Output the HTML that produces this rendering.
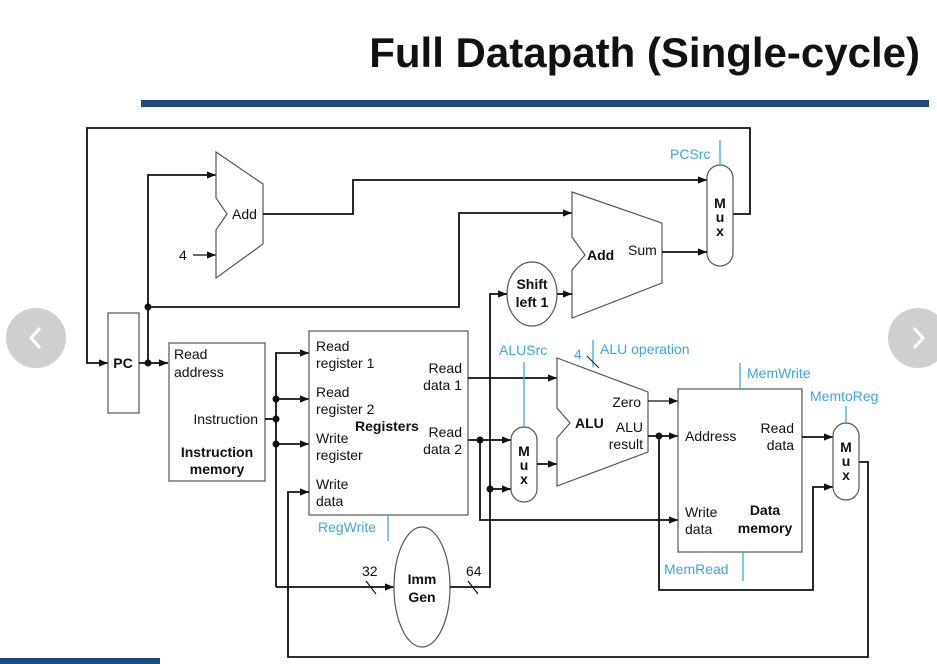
<!DOCTYPE html>
<html><head><meta charset="utf-8"><style>
html,body{margin:0;padding:0;background:#fff;}
svg{display:block;font-family:"Liberation Sans",Arial,sans-serif;}
.t{font-size:14px;fill:#111;}
.b{font-size:14px;font-weight:bold;fill:#111;}
.c{font-size:14px;fill:#3aa6e4;}
.w{stroke:#111;stroke-width:1.8;fill:none;}
.bx{stroke:#555;stroke-width:1.2;fill:#fff;}
.cl{stroke:#3aa6e4;stroke-width:1.3;}
</style></head><body>
<svg width="937" height="664" viewBox="0 0 937 664" xmlns="http://www.w3.org/2000/svg">
<defs><marker id="a" viewBox="0 0 10 10" refX="10" refY="5" markerWidth="9" markerHeight="9" markerUnits="userSpaceOnUse" orient="auto"><path d="M0,1 L10,5 L0,9 z" fill="#111"/></marker></defs>
<text x="920" y="67" text-anchor="end" style="font-size:42px;font-weight:bold" fill="#111">Full Datapath (Single-cycle)</text>
<rect x="141" y="100" width="788" height="7" fill="#1d4a7f"/>
<rect x="0" y="658" width="160" height="6" fill="#1d4a7f"/>

<polyline class="w" points="733,214 750,214 750,128 87,128 87,363 108,363" marker-end="url(#a)"/>
<rect class="bx" x="108" y="313" width="31" height="100"/>
<text class="b" x="123" y="368" text-anchor="middle">PC</text>
<line class="w" x1="139" y1="363" x2="168" y2="363" marker-end="url(#a)"/>
<polyline class="w" points="148,363 148,175 216,175" marker-end="url(#a)"/>
<polyline class="w" points="148,307 459,307 459,213 572,213" marker-end="url(#a)"/>
<circle cx="148" cy="363" r="3.5" fill="#111"/><circle cx="148" cy="307" r="3.5" fill="#111"/>

<polygon class="bx" points="216,152 263,184 263,244 216,278 216,230 227,214 216,198"/>
<text class="t" x="232" y="219">Add</text>
<text class="t" x="179" y="260">4</text>
<line class="w" x1="193" y1="255" x2="216" y2="255" marker-end="url(#a)" style="stroke-width:1.2"/>
<polyline class="w" points="263,214 353,214 353,180 707,180" marker-end="url(#a)"/>

<rect class="bx" x="707" y="165" width="26" height="101" rx="13"/>
<text class="b" x="720" y="208" text-anchor="middle">M</text>
<text class="b" x="720" y="222" text-anchor="middle">u</text>
<text class="b" x="720" y="236" text-anchor="middle">x</text>
<text class="c" x="670" y="159">PCSrc</text>
<line class="cl" x1="720" y1="140" x2="720" y2="165"/>

<polygon class="bx" points="572,192 662,223 662,283 572,318 572,270 585,255 572,237"/>
<text class="b" x="587" y="260">Add</text>
<text class="t" x="628" y="255">Sum</text>
<line class="w" x1="662" y1="252" x2="707" y2="252" marker-end="url(#a)"/>

<ellipse class="bx" cx="532" cy="294" rx="25" ry="32"/>
<text class="b" x="532" y="289" text-anchor="middle">Shift</text>
<text class="b" x="532" y="307" text-anchor="middle">left 1</text>
<line class="w" x1="557" y1="294" x2="572" y2="294" marker-end="url(#a)"/>

<rect class="bx" x="169" y="343" width="96" height="138"/>
<text class="t" x="174" y="359">Read</text>
<text class="t" x="174" y="377">address</text>
<text class="t" x="258" y="424" text-anchor="end">Instruction</text>
<text class="b" x="217" y="457" text-anchor="middle">Instruction</text>
<text class="b" x="217" y="474" text-anchor="middle">memory</text>
<line class="w" x1="265" y1="419" x2="276" y2="419"/>
<polyline class="w" points="276,587 276,353 309,353" marker-end="url(#a)"/>
<line class="w" x1="276" y1="399" x2="309" y2="399" marker-end="url(#a)"/>
<line class="w" x1="276" y1="444" x2="309" y2="444" marker-end="url(#a)"/>
<line class="w" x1="276" y1="587" x2="394" y2="587" marker-end="url(#a)"/>
<circle cx="276" cy="399" r="3.5" fill="#111"/><circle cx="276" cy="419" r="3.5" fill="#111"/><circle cx="276" cy="444" r="3.5" fill="#111"/>
<line x1="366" y1="581" x2="376" y2="594" stroke="#111" stroke-width="1.2"/>
<text class="t" x="362" y="576">32</text>

<rect class="bx" x="309" y="331" width="159" height="184"/>
<text class="t" x="316" y="351">Read</text>
<text class="t" x="316" y="368">register 1</text>
<text class="t" x="316" y="397">Read</text>
<text class="t" x="316" y="414">register 2</text>
<text class="t" x="316" y="443">Write</text>
<text class="t" x="316" y="460">register</text>
<text class="t" x="316" y="489">Write</text>
<text class="t" x="316" y="506">data</text>
<text class="b" x="355" y="431">Registers</text>
<text class="t" x="462" y="373" text-anchor="end">Read</text>
<text class="t" x="462" y="390" text-anchor="end">data 1</text>
<text class="t" x="462" y="437" text-anchor="end">Read</text>
<text class="t" x="462" y="454" text-anchor="end">data 2</text>
<text class="c" x="318" y="532">RegWrite</text>
<line class="cl" x1="388" y1="515" x2="388" y2="541"/>
<polyline class="w" points="859,462 868,462 868,657 288,657 288,492 309,492" marker-end="url(#a)"/>

<ellipse class="bx" cx="422" cy="587" rx="28" ry="60"/>
<text class="b" x="422" y="584" text-anchor="middle">Imm</text>
<text class="b" x="422" y="602" text-anchor="middle">Gen</text>
<polyline class="w" points="450,587 490,587 490,294 507,294" marker-end="url(#a)"/>
<line x1="468" y1="581" x2="478" y2="594" stroke="#111" stroke-width="1.2"/>
<text class="t" x="466" y="576">64</text>

<line class="w" x1="468" y1="378" x2="557" y2="378" marker-end="url(#a)"/>
<line class="w" x1="468" y1="440" x2="511" y2="440" marker-end="url(#a)"/>
<polyline class="w" points="480,440 480,520 678,520" marker-end="url(#a)"/>
<line class="w" x1="490" y1="489" x2="511" y2="489" marker-end="url(#a)"/>
<circle cx="480" cy="440" r="3.5" fill="#111"/><circle cx="490" cy="489" r="3.5" fill="#111"/>

<rect class="bx" x="511" y="427" width="26" height="75" rx="13"/>
<text class="b" x="524" y="456" text-anchor="middle">M</text>
<text class="b" x="524" y="470" text-anchor="middle">u</text>
<text class="b" x="524" y="484" text-anchor="middle">x</text>
<text class="c" x="499" y="355">ALUSrc</text>
<line class="cl" x1="524" y1="362" x2="524" y2="427"/>
<line class="w" x1="537" y1="464" x2="557" y2="464" marker-end="url(#a)"/>

<polygon class="bx" points="557,358 648,392 648,452 557,486 557,438 570,423 557,408"/>
<text class="b" x="575" y="428">ALU</text>
<text class="c" x="574" y="359">4</text>
<text class="c" x="600" y="354">ALU operation</text>
<line class="cl" x1="593" y1="340" x2="593" y2="367"/>
<line x1="587" y1="356" x2="599" y2="368" stroke="#111" stroke-width="1"/>
<text class="t" x="641" y="407" text-anchor="end">Zero</text>
<text class="t" x="643" y="432" text-anchor="end">ALU</text>
<text class="t" x="643" y="449" text-anchor="end">result</text>
<line class="w" x1="648" y1="401" x2="678" y2="401" marker-end="url(#a)" style="stroke-width:1.2"/>
<line class="w" x1="648" y1="436" x2="678" y2="436" marker-end="url(#a)"/>
<polyline class="w" points="659,436 659,590 813,590 813,487 833,487" marker-end="url(#a)"/>
<circle cx="659" cy="436" r="3.5" fill="#111"/>

<rect class="bx" x="678" y="389" width="124" height="163"/>
<text class="t" x="685" y="441">Address</text>
<text class="t" x="794" y="433" text-anchor="end">Read</text>
<text class="t" x="794" y="450" text-anchor="end">data</text>
<text class="t" x="685" y="517">Write</text>
<text class="t" x="685" y="534">data</text>
<text class="b" x="765" y="515" text-anchor="middle">Data</text>
<text class="b" x="765" y="533" text-anchor="middle">memory</text>
<text class="c" x="747" y="378">MemWrite</text>
<line class="cl" x1="740" y1="363" x2="740" y2="389"/>
<text class="c" x="664" y="574">MemRead</text>
<line class="cl" x1="743" y1="552" x2="743" y2="581"/>
<line class="w" x1="802" y1="437" x2="833" y2="437" marker-end="url(#a)"/>

<rect class="bx" x="833" y="423" width="26" height="77" rx="13"/>
<text class="b" x="846" y="452" text-anchor="middle">M</text>
<text class="b" x="846" y="466" text-anchor="middle">u</text>
<text class="b" x="846" y="480" text-anchor="middle">x</text>
<text class="c" x="810" y="401">MemtoReg</text>
<line class="cl" x1="846" y1="406" x2="846" y2="423"/>

<circle cx="36" cy="338" r="30" fill="#cfcfcf"/>
<polyline points="40,328 31,338 40,348" fill="none" stroke="#fff" stroke-width="3"/>
<circle cx="918" cy="338" r="30" fill="#cfcfcf"/>
<polyline points="914,328 923,338 914,348" fill="none" stroke="#fff" stroke-width="3"/>
</svg>
</body></html>
